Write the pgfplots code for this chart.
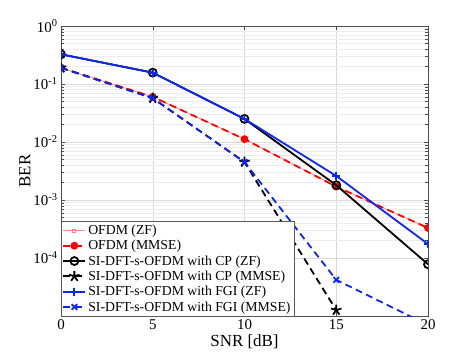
\documentclass[border=0pt]{standalone}
\usepackage{pgfplots}
\pgfplotsset{compat=1.18}
\usepackage{fontspec}
\setmainfont{Liberation Serif}
\definecolor{mblue}{rgb}{0.05,0.15,0.95}
\definecolor{mpink}{rgb}{1,0.55,0.55}
\begin{document}
\begin{tikzpicture}
\path[use as bounding box] (-61bp,-45bp) rectangle (413bp,316bp);
\begin{axis}[
  at={(0,0)}, anchor=south west,
  scale only axis, width=367bp, height=290bp,
  ymode=log, xmin=0, xmax=20, ymin=1e-5, ymax=1,
  xtick={0,5,10,15,20},
  ytick={1e-4,1e-3,1e-2,1e-1,1},
  yticklabels={10\textsuperscript{-4},10\textsuperscript{-3},10\textsuperscript{-2},10\textsuperscript{-1},10\textsuperscript{0}},
  /pgf/number format/assume math mode=true,
  tick label style={font=\fontsize{15}{18}\selectfont},
  label style={font=\fontsize{17}{20}\selectfont},
  xlabel={SNR [dB]}, ylabel={BER},
  xlabel style={yshift=2pt},
  ylabel style={yshift=-4pt},
  grid=both,
  major grid style={gray!30, line width=0.5pt},
  minor grid style={gray!15, line width=0.4pt},
  minor x tick num=0,
  tick align=inside,
  axis line style={gray!60!black},
  tick style={gray!60!black},
  clip marker paths=true,
  mdash/.style={dash pattern=on 7bp off 4.5bp},
  legend style={at={(0,0)}, anchor=south west, font=\fontsize{13.8}{15}\selectfont,
    draw=gray!70!black, fill=white, row sep=0.3pt, inner sep=1.5pt, outer sep=0pt},
  legend cell align=left,
  legend image code/.code={\draw[mark repeat=2,mark phase=2,#1] plot coordinates {(0bp,0bp) (11bp,0bp) (22bp,0bp)};},
]
\addplot[mpink, line width=0.8pt, mark=square, mark size=1.5pt] coordinates {(0,0.19) (5,0.060) (10,0.0112) (15,0.0017) (20,3.3e-4)};
\addlegendentry{OFDM (ZF)}
\addplot[red, line width=1.8pt, mdash, mark=*, mark size=3pt, mark options={solid}] coordinates {(0,0.19) (5,0.060) (10,0.0112) (15,0.0017) (20,3.3e-4)};
\addlegendentry{OFDM (MMSE)}
\addplot[black, line width=1.8pt, mark=o, mark size=4pt] coordinates {(0,0.325) (5,0.157) (10,0.025) (15,0.0018) (20,7.8e-5)};
\addlegendentry{SI-DFT-s-OFDM with CP (ZF)}
\addplot[black, line width=1.8pt, mdash, mark=star, mark size=5.5pt, mark options={solid, fill=black}] coordinates {(0,0.19) (5,0.057) (10,0.0045) (15,1.26e-5)};
\addlegendentry{SI-DFT-s-OFDM with CP (MMSE)}
\addplot[mblue, line width=1.8pt, mark=+, mark size=4pt] coordinates {(0,0.325) (5,0.157) (10,0.025) (15,0.0026) (20,1.74e-4)};
\addlegendentry{SI-DFT-s-OFDM with FGI (ZF)}
\addplot[mblue, line width=1.8pt, mdash, mark=x, mark size=4pt, mark options={solid}] coordinates {(0,0.19) (5,0.057) (10,0.0045) (15,4.2e-5) (20,7e-6)};
\addlegendentry{SI-DFT-s-OFDM with FGI (MMSE)}
\end{axis}
\end{tikzpicture}
\end{document}
